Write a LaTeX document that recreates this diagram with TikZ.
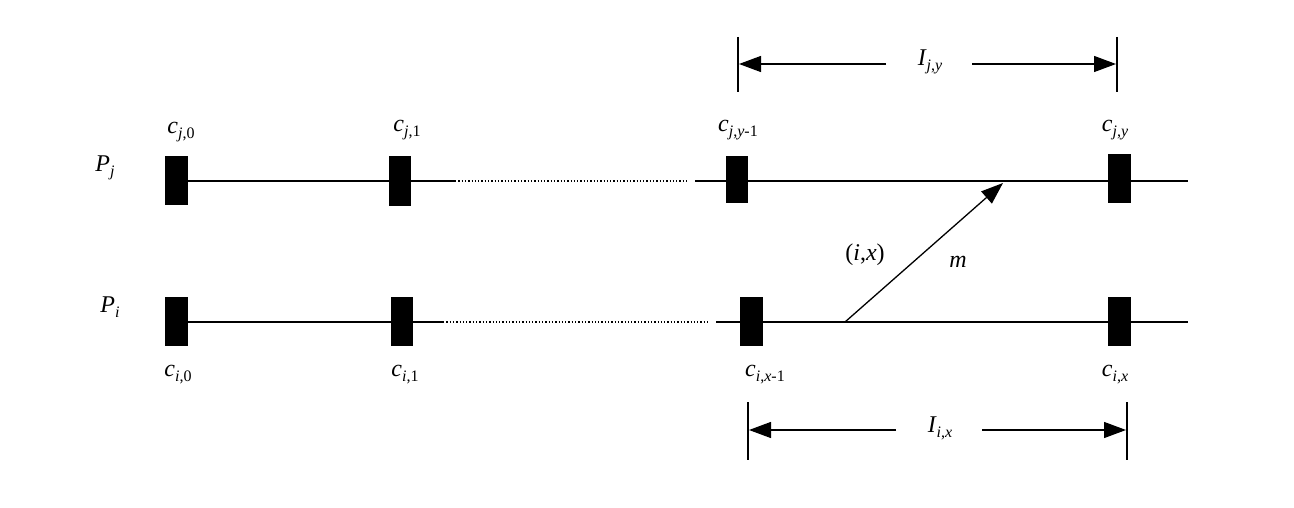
\documentclass[tikz,border=0pt]{standalone}
\usepackage{fontspec}
\setmainfont{Liberation Serif}
\usetikzlibrary{arrows.meta}
\newcommand{\mylab}[2]{\textit{#1}\raisebox{-5pt}{\fontsize{16}{16}\selectfont #2}}
\begin{document}
\begin{tikzpicture}[x=1pt,y=-1pt,
  cp/.style={fill=black,draw=none},
  lbl/.style={font=\fontsize{24}{28}\selectfont,inner sep=0pt},
  ln/.style={line width=1.3pt},
  dim/.style={line width=1.3pt,-{Triangle[length=22pt,width=16pt]}},
  tick/.style={line width=1.3pt}]
\useasboundingbox (0,0) rectangle (1294,508);
% lines
\coordinate (j0) at (168,181); \coordinate (j1) at (455,181);
\coordinate (j2) at (688,181); \coordinate (j3) at (695,181); \coordinate (j4) at (1188,181);
\draw[ln] (j0)--(j1); \draw[ln,dotted] (j1)--(j2); \draw[ln] (j3)--(j4);
\coordinate (i0) at (168,322); \coordinate (i1) at (443,322);
\coordinate (i2) at (710,322); \coordinate (i3) at (716,322); \coordinate (i4) at (1188,322);
\draw[ln] (i0)--(i1); \draw[ln,dotted] (i1)--(i2); \draw[ln] (i3)--(i4);
% checkpoints
\fill[cp] (165,156) rectangle (188,205);
\fill[cp] (389,156) rectangle (411,206);
\fill[cp] (726,156) rectangle (748,203);
\fill[cp] (1108,154) rectangle (1131,203);
\fill[cp] (165,297) rectangle (188,346);
\fill[cp] (391,297) rectangle (413,346);
\fill[cp] (740,297) rectangle (763,346);
\fill[cp] (1108,297) rectangle (1131,346);
% labels
\node[lbl] (pj) at (105,168) {\mylab{P}{\textit{j}}};
\node[lbl] (pi) at (110,307) {\mylab{P}{\textit{i}}};
\node[lbl] (cj0) at (181,132) {\mylab{c}{\textit{j},0}};
\node[lbl] (cj1) at (407,130) {\mylab{c}{\textit{j},1}};
\node[lbl] (cjy1) at (738,130) {\mylab{c}{\textit{j},\textit{y}-1}};
\node[lbl] (cjy) at (1115,130) {\mylab{c}{\textit{j},\textit{y}}};
\node[lbl] (ci0) at (178,375) {\mylab{c}{\textit{i},0}};
\node[lbl] (ci1) at (405,375) {\mylab{c}{\textit{i},1}};
\node[lbl] (cix1) at (765,375) {\mylab{c}{\textit{i},\textit{x}-1}};
\node[lbl] (cix) at (1115,375) {\mylab{c}{\textit{i},\textit{x}}};
% message
\coordinate (ms) at (845,322); \coordinate (me) at (1003,183);
\draw[dim] (ms)--(me);
\node[lbl] (ix) at (865,255) {(\textit{i},\textit{x})};
\node[lbl] (m) at (958,262) {\textit{m}};
% intervals
\coordinate (a1) at (738,37); \coordinate (a2) at (738,92);
\coordinate (b1) at (1117,37); \coordinate (b2) at (1117,92);
\draw[tick] (a1)--(a2); \draw[tick] (b1)--(b2);
\node[lbl] (ijy) at (930,62) {\mylab{I}{\textit{j},\textit{y}}};
\coordinate (al) at (739,64); \coordinate (br) at (1116,64);
\draw[dim] (886,64)--(al); \draw[dim] (972,64)--(br);
\coordinate (c1) at (748,402); \coordinate (c2) at (748,460);
\coordinate (d1) at (1127,402); \coordinate (d2) at (1127,460);
\draw[tick] (c1)--(c2); \draw[tick] (d1)--(d2);
\node[lbl] (iix) at (940,428) {\mylab{I}{\textit{i},\textit{x}}};
\coordinate (cl) at (749,430); \coordinate (dr) at (1126,430);
\draw[dim] (896,430)--(cl); \draw[dim] (982,430)--(dr);
\end{tikzpicture}
\end{document}
